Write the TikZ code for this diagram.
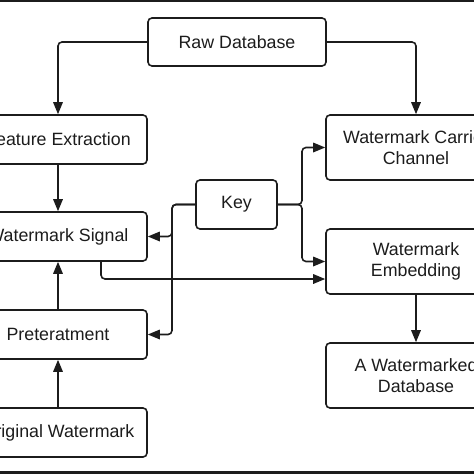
\documentclass[tikz,border=0pt]{standalone}
\usepackage{fontspec}
\setmainfont{Liberation Sans}
\usetikzlibrary{arrows.meta}
\definecolor{ink}{HTML}{1C1C1C}
\tikzset{
  box/.style={draw=ink, line width=1.6pt, rounded corners=4pt, minimum height=49pt,
    inner sep=0pt, align=center, text=ink, font=\fontsize{17.8}{20.5}\selectfont},
  leftbox/.style={box, minimum width=178pt},
  rightbox/.style={box, minimum width=180pt, minimum height=65pt},
  arr/.style={draw=ink, line width=1.6pt, rounded corners=4pt,
    -{Triangle[length=12pt,width=9.5pt]}}
}
\begin{document}
\begin{tikzpicture}[x=1pt,y=-1pt]
\useasboundingbox (0,0) rectangle (474,474);
\clip (0,0) rectangle (474,474);
\fill[ink] (0,0) rectangle (474,2.2);
\fill[ink] (0,471) rectangle (474,474);
\node[box, minimum width=178pt, minimum height=48pt] (rdb) at (237,42) {Raw Database};
\node[leftbox] (fe) at (58,139.5) {Feature Extraction};
\node[leftbox] (ws) at (58,236.5) {Watermark Signal};
\node[leftbox] (pr) at (58,334.5) {Preteratment};
\node[leftbox] (ow) at (58,432.5) {Original Watermark};
\node[box, minimum width=81pt] (key) at (236.5,204.5) {Key};
\node[rightbox] (wcc) at (416,147.5) {Watermark Carrier\\Channel};
\node[rightbox] (we) at (416,261.5) {Watermark\\Embedding};
\node[rightbox] (awd) at (416,375.5) {A Watermarked\\Database};
\coordinate (kl) at (172,204.5);
\coordinate (kr) at (302,204.5);
\draw[arr] (rdb.west) -| (fe.north);
\draw[arr] (rdb.east) -| (wcc.north);
\draw[arr] (fe.south) -- (ws.north);
\draw[arr] (pr.north) -- (ws.south);
\draw[arr] (ow.north) -- (pr.south);
\draw[arr] (key.west) -- (kl) |- (ws.east);
\draw[arr] (key.west) -- (kl) |- (pr.east);
\draw[arr] (key.east) -- (kr) |- (wcc.west);
\draw[arr] (key.east) -- (kr) |- (we.west);
\draw[arr] ([xshift=43pt]ws.south) |- ([yshift=-17.5pt]we.west);
\draw[arr] (we.south) -- (awd.north);
\end{tikzpicture}
\end{document}
